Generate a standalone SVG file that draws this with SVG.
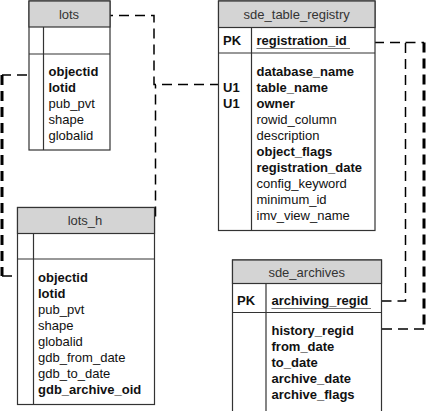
<svg xmlns="http://www.w3.org/2000/svg" width="426" height="411" viewBox="0 0 426 411">
<style>
text{font-family:"Liberation Sans",Arial,sans-serif;font-size:13px;fill:#111}
.t{fill:#333;text-anchor:middle}
.b{font-weight:bold}
.box{fill:#fff;stroke:#333;stroke-width:1.2}
.hd{fill:#d4d4d4;stroke:#333;stroke-width:1.2}
.ln{stroke:#333;stroke-width:1.2;fill:none}
.ul{stroke:#777;stroke-width:1.2}
.c{fill:none;stroke:#000;stroke-width:1.5;stroke-dasharray:10,6}
.ck{fill:none;stroke:#000;stroke-width:3;stroke-dasharray:10,6}
</style>
<rect width="426" height="411" fill="#fff"/>
<g id="connectors">
<path class="c" d="M87,15.5 H154 V84.5 H219"/>
<path class="c" d="M110,219 H155.5 V85"/>
<path class="c" d="M43,75 H2"/>
<path class="ck" d="M2,75 V276"/>
<path class="c" d="M2,276 H33"/>
<path class="c" d="M358,42.5 H405.5 V301 H377"/>
<path class="c" d="M405.5,42.5 H424"/>
<path class="ck" d="M424,42.5 V329"/>
<path class="c" d="M424,329 H367"/>
</g>
<g id="lots">
<rect class="box" x="29" y="1" width="81" height="149"/>
<rect class="hd" x="29" y="1" width="81" height="26"/>
<line class="ln" x1="29" y1="54" x2="110" y2="54"/>
<line class="ln" x1="43.5" y1="27" x2="43.5" y2="150"/>
<text class="t" x="69" y="19">lots</text>
<text class="b" x="48.5" y="76">objectid</text>
<text class="b" x="48.5" y="92">lotid</text>
<text x="48.5" y="108">pub_pvt</text>
<text x="48.5" y="124">shape</text>
<text x="48.5" y="140">globalid</text>
</g>
<g id="sde_table_registry">
<rect class="box" x="218.5" y="1" width="156.5" height="229.5"/>
<rect class="hd" x="218.5" y="1" width="156.5" height="26.5"/>
<line class="ln" x1="218.5" y1="53" x2="375" y2="53"/>
<line class="ln" x1="251.5" y1="27.5" x2="251.5" y2="230.5"/>
<text class="t" x="296.7" y="19">sde_table_registry</text>
<text class="b" x="223" y="45">PK</text>
<text class="b" x="256.5" y="45">registration_id</text>
<line class="ul" x1="256.5" y1="48.5" x2="350" y2="48.5"/>
<text class="b" x="223" y="92">U1</text>
<text class="b" x="223" y="108">U1</text>
<text class="b" x="256.5" y="76">database_name</text>
<text class="b" x="256.5" y="92">table_name</text>
<text class="b" x="256.5" y="108">owner</text>
<text x="256.5" y="124">rowid_column</text>
<text x="256.5" y="140">description</text>
<text class="b" x="256.5" y="156">object_flags</text>
<text class="b" x="256.5" y="172">registration_date</text>
<text x="256.5" y="188">config_keyword</text>
<text x="256.5" y="204">minimum_id</text>
<text x="256.5" y="220">imv_view_name</text>
</g>
<g id="lots_h">
<rect class="box" x="17.5" y="207.5" width="137" height="197"/>
<rect class="hd" x="17.5" y="207.5" width="137" height="26"/>
<line class="ln" x1="17.5" y1="259" x2="154.5" y2="259"/>
<line class="ln" x1="33.5" y1="233.5" x2="33.5" y2="404.5"/>
<text class="t" x="85" y="225">lots_h</text>
<text class="b" x="38" y="282">objectid</text>
<text class="b" x="38" y="298">lotid</text>
<text x="38" y="314">pub_pvt</text>
<text x="38" y="330">shape</text>
<text x="38" y="346">globalid</text>
<text x="38" y="362">gdb_from_date</text>
<text x="38" y="378">gdb_to_date</text>
<text class="b" x="38" y="394">gdb_archive_oid</text>
</g>
<g id="sde_archives">
<rect class="box" x="232.5" y="260" width="149" height="155"/>
<rect class="hd" x="232.5" y="260" width="149" height="23.5"/>
<line class="ln" x1="232.5" y1="312.5" x2="381.5" y2="312.5"/>
<line class="ln" x1="266" y1="283.5" x2="266" y2="415"/>
<text class="t" x="306.7" y="277">sde_archives</text>
<text class="b" x="237" y="305">PK</text>
<text class="b" x="271.5" y="305">archiving_regid</text>
<line class="ul" x1="271.5" y1="308.5" x2="371" y2="308.5"/>
<text class="b" x="271.5" y="335">history_regid</text>
<text class="b" x="271.5" y="351">from_date</text>
<text class="b" x="271.5" y="367">to_date</text>
<text class="b" x="271.5" y="383">archive_date</text>
<text class="b" x="271.5" y="399">archive_flags</text>
</g>
</svg>
